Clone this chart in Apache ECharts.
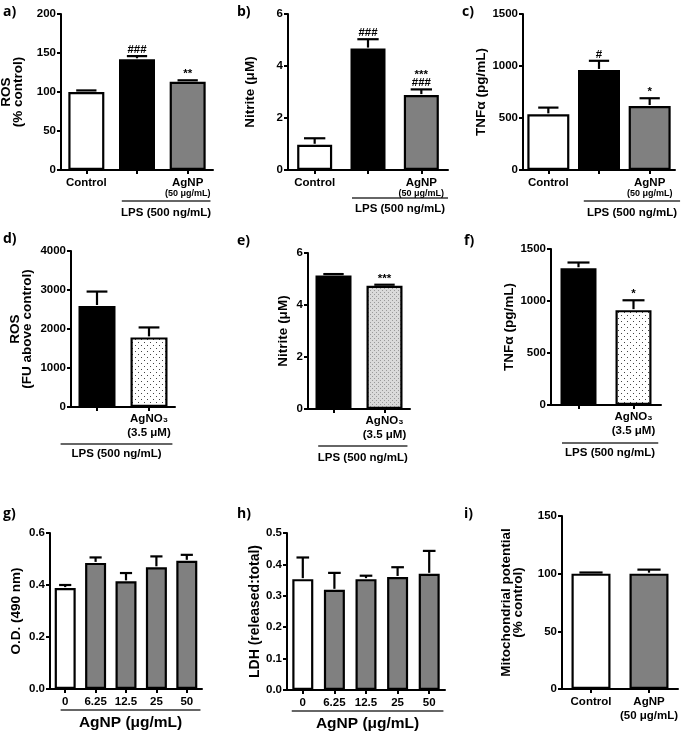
<!DOCTYPE html>
<html><head><meta charset="utf-8">
<script src="https://cdn.jsdelivr.net/npm/echarts@6/dist/echarts.min.js"></script>
<style>html,body{margin:0;padding:0;background:#fff}#c{width:685px;height:735px}</style>
</head><body><div id="c"></div>
<script>
// ---------- DATA ----------
const catsABC = ['Control', 'LPS', 'LPS + AgNP'];
const labelsABC = ['Control', '', 'AgNP'];
const subsABC = ['', '', '(50 μg/mL)'];

const ticksA = [0, 50, 100, 150, 200];
const valA = [100, 142, 113];
const errA = [2, 4, 2];
const sigA = ['', '###', '**'];

const ticksB = [0, 2, 4, 6];
const valB = [0.97, 4.67, 2.88];
const errB = [0.25, 0.36, 0.22];
const sigB = ['', '###', '***\n###'];

const ticksC = [0, 500, 1000, 1500];
const valC = [535, 962, 615];
const errC = [65, 88, 75];
const sigC = ['', '#', '*'];

const catsDEF = ['LPS', 'LPS + AgNO3'];
const labelsDEF = ['', 'AgNO₃'];
const subsDEF = ['', '(3.5 μM)'];

const ticksD = [0, 1000, 2000, 3000, 4000];
const valD = [2590, 1785];
const errD = [370, 255];
const sigD = ['', ''];

const ticksE = [0, 2, 4, 6];
const valE = [5.13, 4.74];
const errE = [0.06, 0.04];
const sigE = ['', '***'];

const ticksF = [0, 500, 1000, 1500];
const valF = [1315, 912];
const errF = [55, 95];
const sigF = ['', '*'];

const catsGH = ['0', '6.25', '12.5', '25', '50'];
const subsGH = ['', '', '', '', ''];
const ticksG = [0, 0.2, 0.4, 0.6];
const valG = [0.388, 0.485, 0.414, 0.468, 0.493];
const errG = [0.012, 0.021, 0.032, 0.042, 0.023];
const sigG = ['', '', '', '', ''];

const ticksH = [0, 0.1, 0.2, 0.3, 0.4, 0.5];
const valH = [0.353, 0.319, 0.353, 0.36, 0.37];
const errH = [0.069, 0.054, 0.011, 0.031, 0.073];
const sigH = ['', '', '', '', ''];

const catsI = ['Control', 'AgNP'];
const subsI = ['', '(50 μg/mL)'];
const ticksI = [0, 50, 100, 150];
const valI = [100, 100];
const errI = [1, 3.5];
const sigI = ['', ''];

const panelLetters = ['a)', 'b)', 'c)', 'd)', 'e)', 'f)', 'g)', 'h)', 'i)'];
const groupLPS = 'LPS (500 ng/mL)';
const groupAgNP = 'AgNP (μg/mL)';

// ---------- STYLE ----------
const FONT = '"Liberation Sans", Arial, Helvetica, sans-serif';
const TS = 11.5; // tick label size
const WHITE = '#ffffff', BLACK = '#000000', GREY = '#808080';
function dotPattern(bg, dot, step) {
  const c = document.createElement('canvas');
  c.width = c.height = step * 2;
  const g = c.getContext('2d');
  g.fillStyle = bg; g.fillRect(0, 0, c.width, c.height);
  g.fillStyle = dot; g.fillRect(0, 0, 1, 1); g.fillRect(step, step, 1, 1);
  return { image: c, repeat: 'repeat' };
}
const DOTS = dotPattern('#ffffff', '#444444', 3);
const SPECK = dotPattern('#dadada', '#9a9a9a', 2);

const panels = [
  { grid: { left: 61, top: 14, width: 152, height: 156 }, cats: catsABC, labels: labelsABC, subs: subsABC, vals: valA, errs: errA, sigs: sigA, ticks: ticksA, fills: [WHITE, BLACK, GREY], yName: 'ROS\n(% control)', nameGap: 36, nameSize: 13.5, barWidth: 36, margin: 7, lh: [12, 10], subSize: 9, dec: 0, letter: [3, 5] },
  { grid: { left: 288, top: 14, width: 160, height: 156 }, cats: catsABC, labels: labelsABC, subs: subsABC, vals: valB, errs: errB, sigs: sigB, ticks: ticksB, fills: [WHITE, BLACK, GREY], yName: 'Nitrite (μM)', nameGap: 31, nameSize: 13.5, barWidth: 35, margin: 7, lh: [12, 10], subSize: 9, dec: 0, letter: [237, 5] },
  { grid: { left: 523, top: 14, width: 152, height: 156 }, cats: catsABC, labels: labelsABC, subs: subsABC, vals: valC, errs: errC, sigs: sigC, ticks: ticksC, fills: [WHITE, BLACK, GREY], yName: 'TNFα (pg/mL)', nameGap: 34, nameSize: 13.5, barWidth: 42, margin: 7, lh: [12, 10], subSize: 9, dec: 0, letter: [462, 5] },
  { grid: { left: 71, top: 251, width: 104, height: 156 }, cats: catsDEF, labels: labelsDEF, subs: subsDEF, vals: valD, errs: errD, sigs: sigD, ticks: ticksD, fills: [BLACK, DOTS], yName: 'ROS\n(FU above control)', nameGap: 37, nameSize: 13.5, barWidth: 37, margin: 5, lh: [13, 15], subSize: TS, dec: 0, letter: [3, 232] },
  { grid: { left: 308, top: 253, width: 102, height: 156 }, cats: catsDEF, labels: labelsDEF, subs: subsDEF, vals: valE, errs: errE, sigs: sigE, ticks: ticksE, fills: [BLACK, SPECK], yName: 'Nitrite (μM)', nameGap: 18, nameSize: 13.5, barWidth: 36, margin: 5, lh: [13, 15], subSize: TS, dec: 0, letter: [237, 234] },
  { grid: { left: 551, top: 249, width: 110, height: 156 }, cats: catsDEF, labels: labelsDEF, subs: subsDEF, vals: valF, errs: errF, sigs: sigF, ticks: ticksF, fills: [BLACK, DOTS], yName: 'TNFα (pg/mL)', nameGap: 29, nameSize: 13.5, barWidth: 36, margin: 5, lh: [13, 15], subSize: TS, dec: 0, letter: [464, 234] },
  { grid: { left: 50, top: 533, width: 152, height: 156 }, cats: catsGH, labels: catsGH, subs: subsGH, vals: valG, errs: errG, sigs: sigG, ticks: ticksG, fills: [WHITE, GREY, GREY, GREY, GREY], yName: 'O.D. (490 nm)', nameGap: 27, nameSize: 13.5, barWidth: 21, margin: 7, lh: [11, 11], subSize: TS, dec: 1, letter: [3, 507] },
  { grid: { left: 287, top: 533, width: 158, height: 157 }, cats: catsGH, labels: catsGH, subs: subsGH, vals: valH, errs: errH, sigs: sigH, ticks: ticksH, fills: [WHITE, GREY, GREY, GREY, GREY], yName: 'LDH (released:total)', nameGap: 24, nameSize: 14, barWidth: 21, margin: 7, lh: [11, 11], subSize: TS, dec: 1, letter: [237, 507] },
  { grid: { left: 562, top: 516, width: 116, height: 173 }, cats: catsI, labels: catsI, subs: subsI, vals: valI, errs: errI, sigs: sigI, ticks: ticksI, fills: [WHITE, GREY], yName: 'Mitochondrial potential\n(% control)', nameGap: 37, nameSize: 13.5, barWidth: 39, margin: 6, lh: [13, 16], subSize: TS, dec: 0, letter: [464, 507] }
];

// brackets: panel index, first/last category, pads in band fractions, offset below axis
const brackets = [
  { p: 0, from: 1, to: 2, padL: 0.3, padR: 0.45, dLine: 31, dText: 43, text: groupLPS, size: TS },
  { p: 1, from: 1, to: 2, padL: 0.3, padR: 0.5, dLine: 28, dText: 39, text: groupLPS, size: TS },
  { p: 2, from: 1, to: 2, padL: 0.3, padR: 0.6, dLine: 31, dText: 43, text: groupLPS, size: TS },
  { p: 3, from: 0, to: 1, padL: 0.7, padR: 0.45, dLine: 37, dText: 47, text: groupLPS, size: TS },
  { p: 4, from: 0, to: 1, padL: 0.3, padR: 0.45, dLine: 37, dText: 49, text: groupLPS, size: TS },
  { p: 5, from: 0, to: 1, padL: 0.3, padR: 0.45, dLine: 38, dText: 48, text: groupLPS, size: TS },
  { p: 6, from: 0, to: 4, padL: 0.15, padR: 0.45, dLine: 21, dText: 34, text: groupAgNP, size: 15.5 },
  { p: 7, from: 0, to: 4, padL: 0.35, padR: 0.45, dLine: 21, dText: 34, text: groupAgNP, size: 15.5 }
];

const grids = [], xAxes = [], yAxes = [], series = [], graphics = [];
panels.forEach((P, k) => {
  grids.push(Object.assign({ containLabel: false, outerBoundsMode: 'none' }, P.grid));
  xAxes.push({
    type: 'category', gridIndex: k, data: P.cats,
    axisLine: { show: true, lineStyle: { color: '#000', width: 2 } },
    axisTick: { show: true, alignWithLabel: true, length: 4, lineStyle: { color: '#000', width: 2 } },
    axisLabel: {
      interval: 0, margin: P.margin, color: '#000', fontWeight: 'bold', fontSize: TS, fontFamily: FONT,
      lineHeight: P.lh[0],
      formatter: (v, i) => P.subs[i] ? '{m|' + P.labels[i] + '}\n{s|' + P.subs[i] + '}' : P.labels[i],
      rich: {
        m: { fontSize: TS, fontWeight: 'bold', fontFamily: FONT, color: '#000', lineHeight: P.lh[0] },
        s: { fontSize: P.subSize, fontWeight: 'bold', fontFamily: FONT, color: '#000', lineHeight: P.lh[1] }
      }
    },
    splitLine: { show: false }
  });
  const t = P.ticks;
  yAxes.push({
    type: 'value', gridIndex: k, min: t[0], max: t[t.length - 1], interval: t[1] - t[0],
    axisLine: { show: true, lineStyle: { color: '#000', width: 2 } },
    axisTick: { show: true, length: 4, lineStyle: { color: '#000', width: 2 } },
    axisLabel: { margin: 5, color: '#000', fontWeight: 'bold', fontSize: TS, fontFamily: FONT,
      formatter: v => v.toFixed(P.dec) },
    splitLine: { show: false },
    name: P.yName, nameLocation: 'middle', nameGap: P.nameGap, nameRotate: 90,
    nameTextStyle: { color: '#000', fontWeight: 'bold', fontSize: P.nameSize, fontFamily: FONT, lineHeight: 12.5 }
  });
  series.push({
    type: 'bar', xAxisIndex: k, yAxisIndex: k, barWidth: P.barWidth,
    data: P.vals.map((v, i) => ({ value: v, itemStyle: { color: P.fills[i] } })),
    itemStyle: { borderColor: '#000', borderWidth: 2.2 },
    silent: true
  });
  series.push({
    type: 'custom', xAxisIndex: k, yAxisIndex: k, z: 5, silent: true,
    data: P.vals.map((v, i) => [i, v, v + P.errs[i]]),
    encode: { x: 0, y: [1, 2] },
    renderItem: (params, api) => {
      const i = params.dataIndex;
      const base = api.coord([api.value(0), api.value(1)]);
      const top = api.coord([api.value(0), api.value(2)]);
      const hw = api.size([1, 0])[0] * 0.2;
      const children = [
        { type: 'line', shape: { x1: base[0], y1: base[1] - 1, x2: top[0], y2: top[1] }, style: { stroke: '#000', lineWidth: 2.2 } },
        { type: 'line', shape: { x1: top[0] - hw, y1: top[1], x2: top[0] + hw, y2: top[1] }, style: { stroke: '#000', lineWidth: 2.2 } }
      ];
      const s = P.sigs[i];
      if (s) children.push({ type: 'text', x: top[0], y: top[1] - 2,
        style: { text: s, align: 'center', verticalAlign: 'bottom', fontSize: 11.5, fontWeight: 'bold', fontFamily: FONT, fill: '#000', lineHeight: 8.5 } });
      return { type: 'group', children };
    }
  });
  graphics.push({ type: 'text', left: P.letter[0], top: P.letter[1],
    style: { text: panelLetters[k], fontSize: 14, fontWeight: 'bold', fontFamily: '"Open Sans", "Noto Sans", sans-serif', fill: '#000' } });
});

const chart = echarts.init(document.getElementById('c'), null, { renderer: 'canvas' });
chart.setOption({ animation: false, backgroundColor: '#fff', grid: grids, xAxis: xAxes, yAxis: yAxes, series: series, graphic: graphics });

// group brackets positioned via axis scales
brackets.forEach(b => {
  const P = panels[b.p];
  const c0 = chart.convertToPixel({ xAxisIndex: b.p }, P.cats[b.from]);
  const c1 = chart.convertToPixel({ xAxisIndex: b.p }, P.cats[b.to]);
  const band = P.grid.width / P.cats.length;
  const x0 = c0 - b.padL * band, x1 = c1 + b.padR * band;
  const bottom = P.grid.top + P.grid.height;
  graphics.push({ type: 'line', shape: { x1: x0, y1: bottom + b.dLine, x2: x1, y2: bottom + b.dLine }, style: { stroke: '#333', lineWidth: 1.3 } });
  graphics.push({ type: 'text', x: (x0 + x1) / 2, y: bottom + b.dText,
    style: { text: b.text, align: 'center', verticalAlign: 'middle', fontSize: b.size, fontWeight: 'bold', fontFamily: FONT, fill: '#000' } });
});
chart.setOption({ graphic: graphics });
</script></body></html>
